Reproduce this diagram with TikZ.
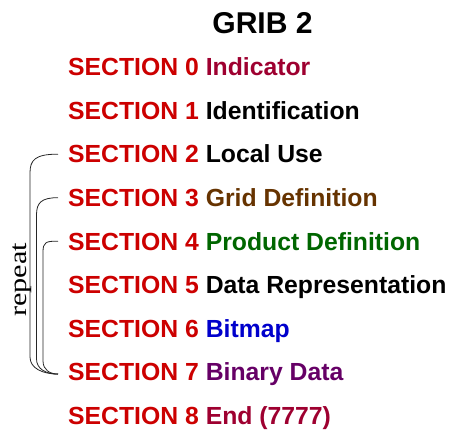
\documentclass[tikz,border=0pt]{standalone}
\usepackage{fontspec}
\setmainfont{Liberation Sans}
\newfontfamily\repfont{Liberation Serif}
\usetikzlibrary{%
  positioning,
  calc
}
\definecolor{secred}{RGB}{204,0,0}
\definecolor{endred}{RGB}{158,0,48}
\definecolor{gridbrown}{RGB}{102,51,0}
\definecolor{prodgreen}{RGB}{0,102,0}
\definecolor{bitblue}{RGB}{0,0,204}
\definecolor{binpurple}{RGB}{102,0,102}
\tikzstyle{row} = [anchor=base west, inner sep=0pt, font=\fontsize{24.85}{28}\selectfont\bfseries]
\tikzstyle{titlebox} = [anchor=base, inner sep=0pt, font=\fontsize{30.2}{34}\selectfont\bfseries]
\tikzstyle{brace} = [draw=black!85, line width=0.8pt]
\newcommand{\sect}[1]{\textcolor{secred}{SECTION #1}}

\begin{document}
\begin{tikzpicture}[x=1bp, y=-1bp]
        \useasboundingbox (0,0) rectangle (463,446);
        \node[titlebox] (title) at (262.5,33.3) {GRIB 2};
        \node[row] (s0) at (68,76.0) {\sect{0} \textcolor{endred}{Indicator}};
        \node[row] (s1) at (68,119.5) {\sect{1} Identification};
        \node[row] (s2) at (68,163.0) {\sect{2} Local Use};
        \node[row] (s3) at (68,206.5) {\sect{3} \textcolor{gridbrown}{Grid Definition}};
        \node[row] (s4) at (68,250.0) {\sect{4} \textcolor{prodgreen}{Product Definition}};
        \node[row] (s5) at (68,293.5) {\sect{5} Data Representation};
        \node[row] (s6) at (68,337.0) {\sect{6} \textcolor{bitblue}{Bitmap}};
        \node[row] (s7) at (68,380.5) {\sect{7} \textcolor{binpurple}{Binary Data}};
        \node[row] (s8) at (68,424.0) {\sect{8} \textcolor{endred}{End (7777)}};
        % bracket ends
        \coordinate (b2) at ([xshift=-10bp]s2.west);
        \coordinate (b3) at ([xshift=-10bp]s3.west);
        \coordinate (b4) at ([xshift=-10bp]s4.west);
        \coordinate (b7) at ([xshift=-10bp]s7.west);
        \draw[brace] (b2) .. controls ([xshift=-23bp]b2) and (30,160) .. (30,173) -- (30,357) .. controls (30,368) and (42,374) .. (b7);
        \draw[brace] (b3) .. controls ([xshift=-17bp]b3) and (36.5,203) .. (36.5,215) -- (36.5,359) .. controls (36.5,369) and (46,374) .. (b7);
        \draw[brace] (b4) .. controls ([xshift=-12bp]b4) and (43,242) .. (43,252) -- (43,361) .. controls (43,370) and (50,374) .. (b7);
        \node[rotate=90, anchor=base, inner sep=0pt, font=\repfont\fontsize{24.5}{28}\selectfont] (rep) at (26,279.7) {\scalebox{1.24}[1]{repeat}};
      \end{tikzpicture}
\end{document}
